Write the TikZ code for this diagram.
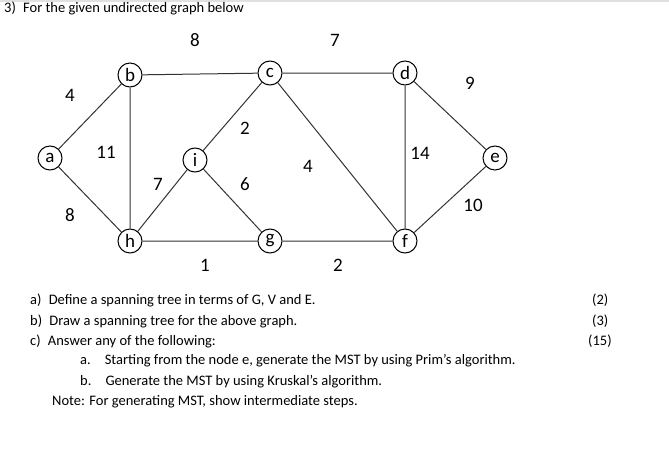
\documentclass[tikz,border=0pt]{standalone}
\usepackage{fontspec}
\setmainfont{Carlito}
\begin{document}
\begin{tikzpicture}[x=1pt,y=-1pt,
 vtx/.style={circle,draw,line width=1pt,minimum size=24pt,inner sep=0pt,font=\fontsize{19}{19}\selectfont},
 edge/.style={draw=black!80,line width=1pt},
 wt/.style={font=\fontsize{19}{19}\selectfont},
 txt/.style={anchor=west,font=\fontsize{14.5}{15}\selectfont,inner sep=0pt}]
\useasboundingbox (0,0) rectangle (669,455);
\fill[black!12] (0,0) rectangle (669,2);
\node[txt] (title) at (4,8) {3)\enspace For the given undirected graph below};
\node[vtx] (a) at (50,158) {a};
\node[vtx] (b) at (130,75) {b};
\node[vtx] (c) at (270,73) {c};
\node[vtx] (d) at (405,73) {d};
\node[vtx] (e) at (495,158) {e};
\node[vtx] (f) at (405,241) {f};
\node[vtx] (g) at (270,241) {g};
\node[vtx] (h) at (130,241) {h};
\node[vtx] (i) at (195,160) {i};
\draw[edge] (a)--(b) (a)--(h) (b)--(c) (b)--(h) (c)--(d) (c)--(i) (c)--(f) (d)--(e) (d)--(f) (e)--(f) (h)--(i) (i)--(g) (h)--(g) (g)--(f);
\node[wt] (w1) at (195,40) {8};
\node[wt] (w2) at (335,40) {7};
\node[wt] (w3) at (70,95) {4};
\node[wt] (w4) at (106,152) {11};
\node[wt] (w5) at (70,215) {8};
\node[wt] (w6) at (245,128) {2};
\node[wt] (w7) at (158,184) {7};
\node[wt] (w8) at (245,184) {6};
\node[wt] (w9) at (308,166) {4};
\node[wt] (w10) at (420,153) {14};
\node[wt] (w11) at (470,83) {9};
\node[wt] (w12) at (473,205) {10};
\node[wt] (w13) at (205,265) {1};
\node[wt] (w14) at (338,265) {2};
\node[txt] (t1) at (30,300) {a)\enspace Define a spanning tree in terms of G, V and E.};
\node[txt] (t2) at (30,321) {b)\enspace Draw a spanning tree for the above graph.};
\node[txt] (t3) at (30,341) {c)\enspace Answer any of the following:};
\node[txt] (t4) at (80,361) {a.\enspace\, Starting from the node e, generate the MST by using Prim’s algorithm.};
\node[txt] (t5) at (80,382) {b.\enspace\, Generate the MST by using Kruskal’s algorithm.};
\node[txt] (t6) at (52,402) {Note: For generating MST, show intermediate steps.};
\node[txt] (m1) at (592,300) {(2)};
\node[txt] (m2) at (592,321) {(3)};
\node[txt] (m3) at (588,341) {(15)};
\end{tikzpicture}
\end{document}
